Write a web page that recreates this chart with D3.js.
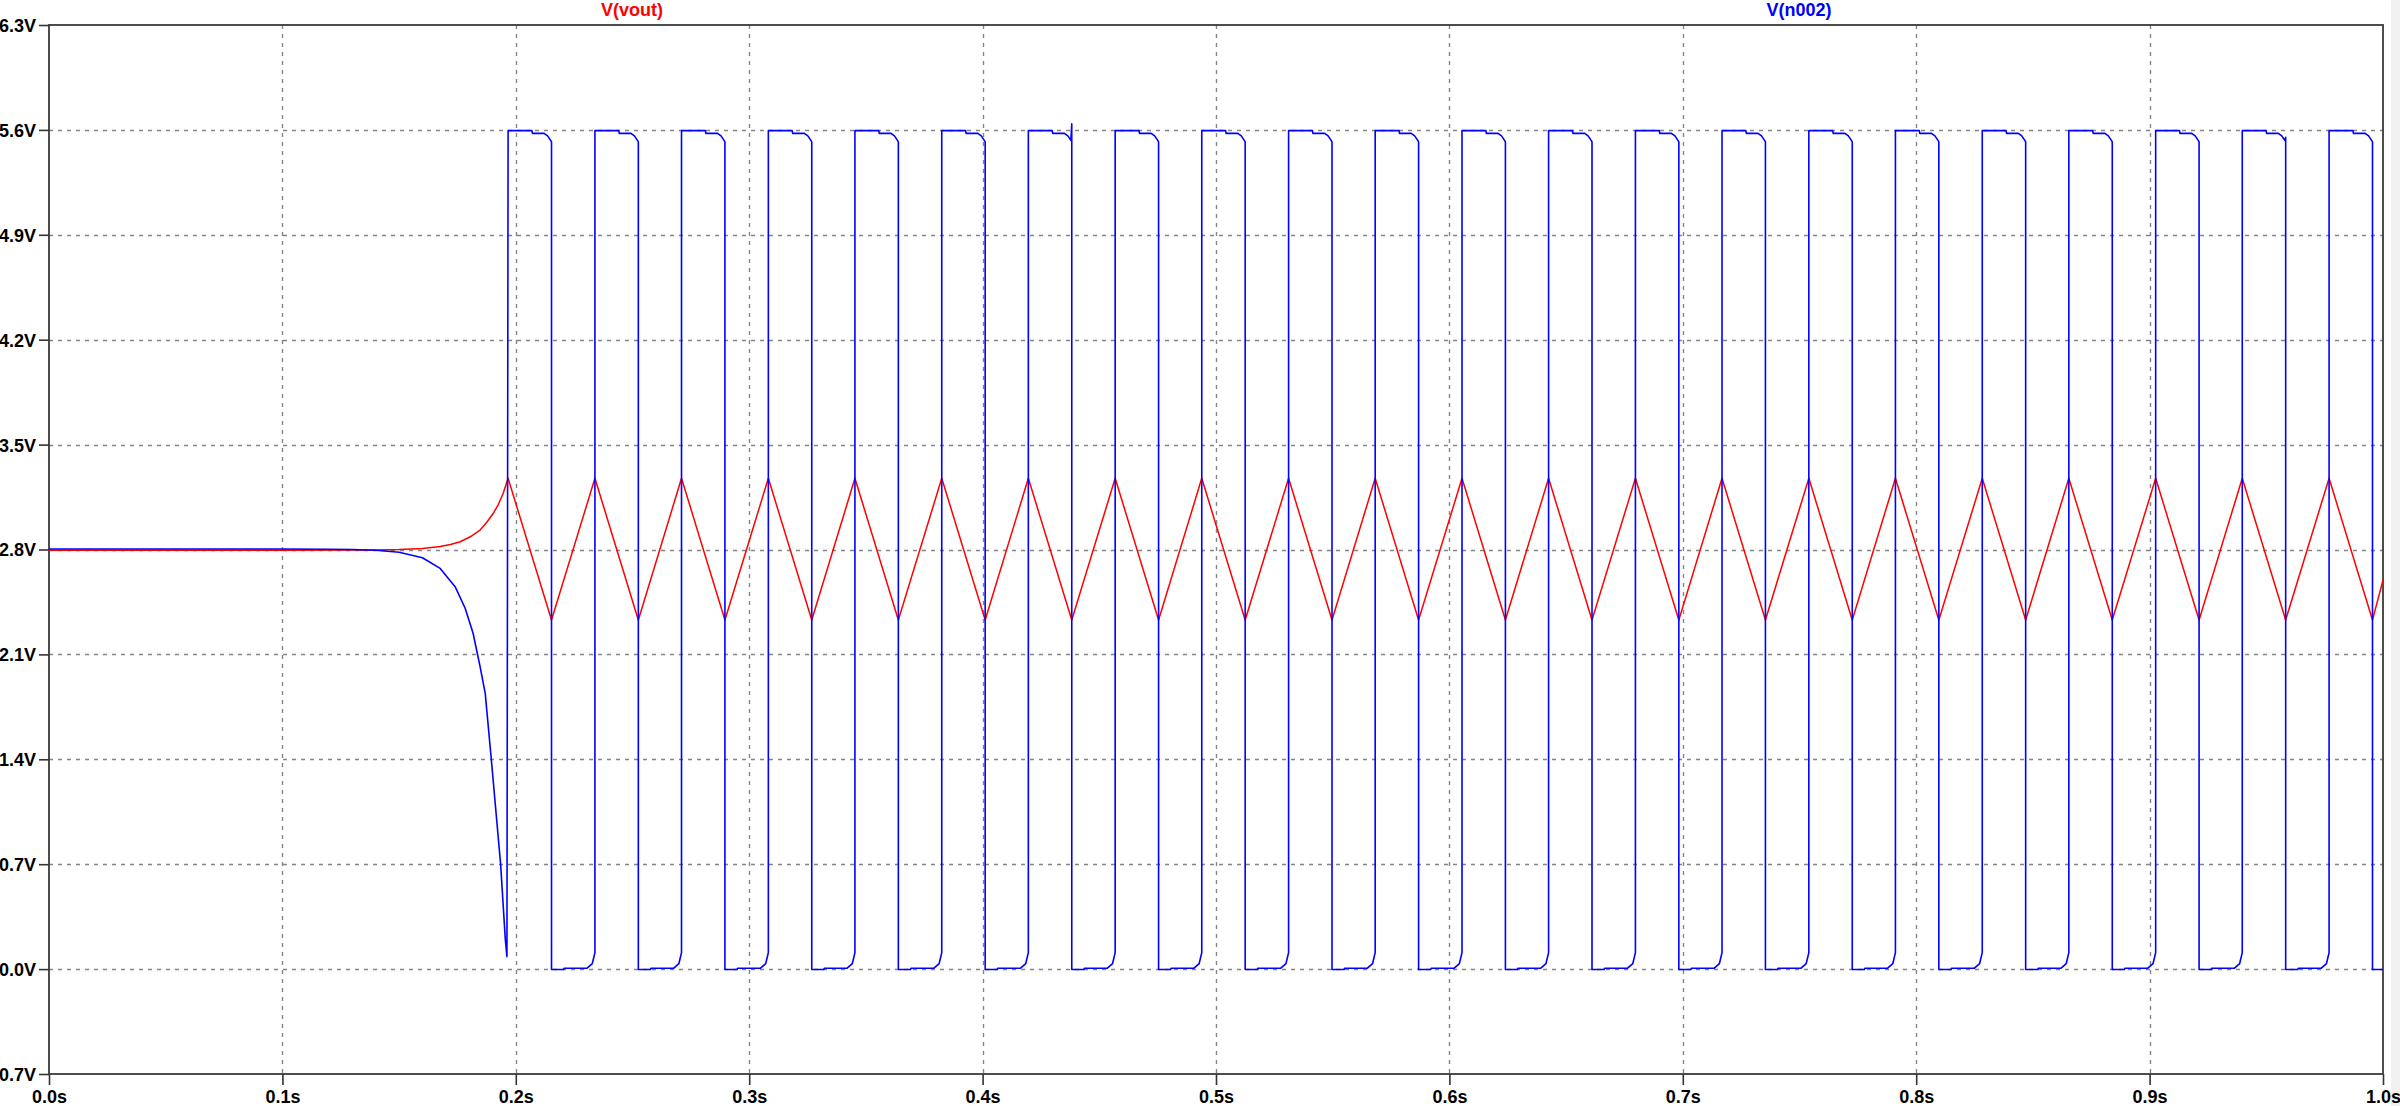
<!DOCTYPE html>
<html>
<head>
<meta charset="utf-8">
<script src="https://cdn.jsdelivr.net/npm/d3@7"></script>
<style>
  html, body { margin: 0; padding: 0; background: #ffffff; }
  svg { display: block; }
  text { font-family: "Liberation Sans", Arial, sans-serif; font-weight: bold; }
</style>
</head>
<body>
<svg id="chart" width="2400" height="1106"></svg>
<script>
// ---------- data ----------
const xTicks = [0, 0.1, 0.2, 0.3, 0.4, 0.5, 0.6, 0.7, 0.8, 0.9, 1.0];
const xTickLabels = ["0.0s", "0.1s", "0.2s", "0.3s", "0.4s", "0.5s", "0.6s", "0.7s", "0.8s", "0.9s", "1.0s"];
const yTicks = [-0.7, 0.0, 0.7, 1.4, 2.1, 2.8, 3.5, 4.2, 4.9, 5.6, 6.3];
const yTickLabels = ["-0.7V", "0.0V", "0.7V", "1.4V", "2.1V", "2.8V", "3.5V", "4.2V", "4.9V", "5.6V", "6.3V"];
const seriesNames = ["V(vout)", "V(n002)"];

// start-up transient of V(vout)
const voutStartT = [0, 0.10, 0.13, 0.14, 0.15, 0.16, 0.1676, 0.1720, 0.1762, 0.1805, 0.1847, 0.1875, 0.1903, 0.1925, 0.1946];
const voutStartV = [2.795, 2.795, 2.796, 2.797, 2.800, 2.807, 2.820, 2.834, 2.852, 2.885, 2.930, 2.980, 3.040, 3.100, 3.175];
// start-up transient of V(n002)
const n002StartT = [0, 0.10, 0.12, 0.13, 0.14, 0.15, 0.16, 0.1676, 0.174, 0.1783, 0.1817, 0.1847, 0.1869, 0.1895, 0.1935, 0.1955, 0.1962];
const n002StartV = [2.803, 2.803, 2.802, 2.800, 2.795, 2.782, 2.745, 2.674, 2.552, 2.408, 2.241, 2.018, 1.840, 1.400, 0.700, 0.200, 0.083];

// switching instants (s): n002 goes high / vout peaks, n002 goes low / vout troughs
const risingEdges = [0.1967, 0.2339, 0.2710, 0.3082, 0.3453, 0.3825, 0.4196, 0.4568, 0.4939, 0.5311, 0.5682,
                     0.6054, 0.6425, 0.6797, 0.7168, 0.7540, 0.7911, 0.8283, 0.8654, 0.9026, 0.9397, 0.9769];
const fallingEdges = [0.2153, 0.2525, 0.2896, 0.3268, 0.3639, 0.4011, 0.4382, 0.4754, 0.5125, 0.5497, 0.5868,
                      0.6240, 0.6611, 0.6983, 0.7354, 0.7726, 0.8097, 0.8469, 0.8840, 0.9212, 0.9583, 0.9955];
const voutPeak = 3.275;
const voutTrough = 2.330;
const voutEnd = [1.0, 2.596];

// shape of one high / low plateau of V(n002) (fraction of plateau, volts)
const highShapeF = [0, 0.55, 0.56, 0.83, 0.91, 0.98, 1.0];
const highShapeV = [5.595, 5.595, 5.577, 5.577, 5.560, 5.530, 5.520];
const lowShapeF = [0, 0.28, 0.29, 0.82, 0.94, 1.0];
const lowShapeV = [-0.003, -0.003, 0.006, 0.006, 0.037, 0.110];
// plateaus that end with a small overshoot spike
const spikeCycles = [6, 20];
const spikeV = [5.640, 5.550];

// ---------- layout ----------
const W = 2400, H = 1106;
const L = 49, R = 2383, T = 25, B = 1074;

const svg = d3.select("#chart");
svg.append("rect").attr("x", 0).attr("y", 0).attr("width", W).attr("height", H).attr("fill", "#ffffff");
svg.append("rect").attr("x", 2391).attr("y", 0).attr("width", 9).attr("height", H).attr("fill", "#f0f0f0");

const x = d3.scaleLinear().domain([0, 1.0]).range([L, R]);
const y = d3.scaleLinear().domain([-0.7, 6.3]).range([B, T]);

// grid
const grid = svg.append("g").attr("stroke", "#858585").attr("stroke-width", 1.4).attr("stroke-dasharray", "4,5");
grid.selectAll("line.gx").data(xTicks.slice(1, -1)).join("line")
  .attr("x1", d => Math.round(x(d)) + 0.5).attr("x2", d => Math.round(x(d)) + 0.5)
  .attr("y1", T).attr("y2", B);
grid.selectAll("line.gy").data(yTicks.slice(1, -1)).join("line")
  .attr("y1", d => Math.round(y(d)) + 0.5).attr("y2", d => Math.round(y(d)) + 0.5)
  .attr("x1", L).attr("x2", R);

// axes
const xAxis = d3.axisBottom(x).tickValues(xTicks).tickFormat((d, i) => xTickLabels[i]).tickSize(11).tickPadding(4);
const yAxis = d3.axisLeft(y).tickValues(yTicks).tickFormat((d, i) => yTickLabels[i]).tickSize(10).tickPadding(3);

const gx = svg.append("g").attr("transform", `translate(0,${B})`).call(xAxis);
const gy = svg.append("g").attr("transform", `translate(${L},0)`).call(yAxis);
[gx, gy].forEach(g => {
  g.select(".domain").remove();
  g.selectAll(".tick line").attr("stroke", "#333333").attr("stroke-width", 1.6);
  g.selectAll(".tick text").attr("fill", "#000000").style("font-size", "18px")
    .style("font-family", '"Liberation Sans", Arial, sans-serif').style("font-weight", "bold");
});
gx.selectAll(".tick text").attr("dy", "0.76em");
gy.selectAll(".tick text").attr("dy", "0.36em");

// frame
svg.append("rect").attr("x", L).attr("y", T).attr("width", R - L).attr("height", B - T)
  .attr("fill", "none").attr("stroke", "#3a3a3a").attr("stroke-width", 1.8);

// ---------- build traces ----------
const vout = [];
voutStartT.forEach((t, i) => vout.push([t, voutStartV[i]]));
risingEdges.forEach((tr, k) => {
  vout.push([tr, voutPeak]);
  vout.push([fallingEdges[k], voutTrough]);
});
vout.push(voutEnd);

const n002 = [];
n002StartT.forEach((t, i) => n002.push([t, n002StartV[i]]));
risingEdges.forEach((tr, k) => {
  const tf = fallingEdges[k];
  const hl = tf - tr;
  const si = spikeCycles.indexOf(k);
  highShapeF.forEach((f, j) => {
    if (si >= 0 && j === highShapeF.length - 1) {
      n002.push([tr + f * hl, spikeV[si]]);
      n002.push([tr + f * hl, highShapeV[j]]);
    } else {
      n002.push([tr + f * hl, highShapeV[j]]);
    }
  });
  const next = k + 1 < risingEdges.length ? risingEdges[k + 1] : null;
  if (next !== null) {
    const ll = next - tf;
    lowShapeF.forEach((f, j) => n002.push([tf + f * ll, lowShapeV[j]]));
  } else {
    n002.push([tf, lowShapeV[0]]);
    n002.push([1.0, lowShapeV[0]]);
  }
});

svg.append("defs").append("clipPath").attr("id", "plotclip")
  .append("rect").attr("x", L).attr("y", T).attr("width", R - L).attr("height", B - T);

const line = d3.line().x(d => x(d[0])).y(d => y(d[1]));
const traces = svg.append("g").attr("clip-path", "url(#plotclip)");
traces.append("path").datum(vout).attr("d", line).attr("fill", "none")
  .attr("stroke", "#ff0000").attr("stroke-width", 1.5).attr("stroke-linejoin", "round");
traces.append("path").datum(n002).attr("d", line).attr("fill", "none")
  .attr("stroke", "#0000ff").attr("stroke-width", 1.6).attr("stroke-linejoin", "round");

// trace labels
svg.append("text").attr("x", 632).attr("y", 16).attr("text-anchor", "middle")
  .attr("fill", "#ff0000").style("font-size", "18px").text(seriesNames[0]);
svg.append("text").attr("x", 1799).attr("y", 16).attr("text-anchor", "middle")
  .attr("fill", "#0000ff").style("font-size", "18px").text(seriesNames[1]);
</script>
</body>
</html>
